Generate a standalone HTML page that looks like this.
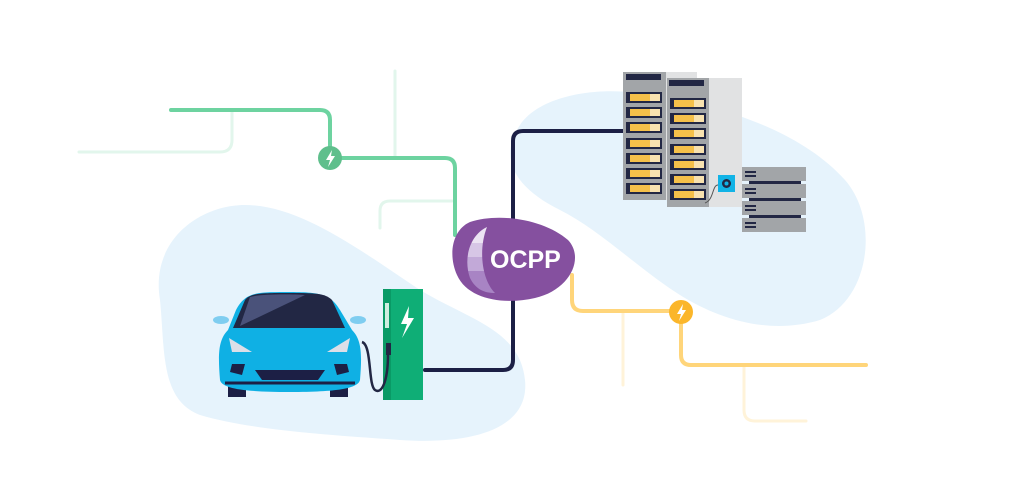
<!DOCTYPE html>
<html><head><style>html,body{margin:0;padding:0;background:#fff;}svg{display:block}</style></head>
<body>
<svg width="1025" height="498" viewBox="0 0 1025 498" xmlns="http://www.w3.org/2000/svg">
<path d="M160 300 C150 240 200 205 245 205 C300 205 360 250 420 290 C470 320 520 330 525 380 C530 430 470 445 400 440 C330 435 250 430 200 415 C160 400 165 350 160 300Z" fill="#e6f3fc"/>
<path d="M520 125 C540 95 600 85 650 95 C720 105 800 130 845 180 C880 220 870 300 820 320 C770 335 720 320 680 295 C640 270 600 230 560 210 C510 185 500 155 520 125Z" fill="#e6f3fc"/>
<g fill="none" stroke-linecap="round" stroke-width="3">
<path d="M79 152 H220 Q232 152 232 140 V110" stroke="#e2f6ec"/>
<path d="M395 71 V157" stroke="#e2f6ec"/>
<path d="M380 228 V211 Q380 201 390 201 H452" stroke="#e2f6ec"/>
<path d="M623 312 V385" stroke="#fff3d9"/>
<path d="M744 366 V410 Q744 421 755 421 H806" stroke="#fff3d9"/>
</g>
<g fill="none" stroke-linecap="round" stroke-width="4">
<path d="M171 110 H320 Q330 110 330 120 V158 H445 Q455 158 455 168 V235" stroke="#6dd3a0"/>
<path d="M425 370 H503 Q513 370 513 360 V290" stroke="#1c1f45"/>
<path d="M513 230 V141 Q513 131 523 131 H625" stroke="#1c1f45"/>
<path d="M572 275 V300 Q572 311 583 311 H681 V355 Q681 365 691 365 H866" stroke="#ffd57a"/>
</g>
<circle cx="330" cy="158" r="12" fill="#5fbf8c"/>
<path d="M332 150 L326 160 H330 L328 167 L335 156 H331Z" fill="#fff"/>
<circle cx="681" cy="312" r="12" fill="#fbb62a"/>
<path d="M683 304 L677 314 H681 L679 321 L686 310 H682Z" fill="#fff"/>
<path d="M470 222 C500 212 545 220 568 240 C585 258 570 290 535 298 C505 305 468 300 457 275 C448 255 452 230 470 222Z" fill="#85509f"/>
<clipPath id="cr"><path d="M487 227 C470 235 463 258 470 278 C476 290 485 293 495 293 C482 280 478 250 487 227Z"/></clipPath>
<g clip-path="url(#cr)">
<rect x="460" y="225" width="40" height="18" fill="#ece3f3"/>
<rect x="460" y="243" width="40" height="14" fill="#d7c6e6"/>
<rect x="460" y="257" width="40" height="14" fill="#c2a9d8"/>
<rect x="460" y="271" width="40" height="25" fill="#a884c4"/>
</g>
<text x="490" y="268" font-family="Liberation Sans, sans-serif" font-weight="bold" font-size="25" fill="#fff">OCPP</text>
<rect x="383" y="289" width="40" height="111" fill="#0fae76"/>
<rect x="383" y="289" width="8" height="111" fill="#0a9a66"/>
<rect x="385" y="303" width="4" height="25" fill="#cfeee0"/>
<path d="M409 306 L401 324 H407 L402 338 L414 318 H408Z" fill="#fff"/>
<rect x="386" y="343" width="5" height="12" fill="#222744"/>
<path d="M388 354 C388 380 382 395 375 390 C368 385 372 345 362 342" stroke="#222744" stroke-width="2.5" fill="none"/>
<path d="M228 385 h18 v12 h-18z M330 385 h18 v12 h-18z" fill="#1c1f45"/>
<path d="M236 310 C245 293 255 292 285 292 C318 292 330 293 340 310 L352 330 C362 340 362 355 360 380 C358 388 340 392 290 392 C240 392 222 388 220 380 C218 355 218 340 228 330Z" fill="#0fb0e4"/>
<path d="M245 300 C250 293 262 293 288 293 C315 293 325 293 332 300 L345 328 H233Z" fill="#222744"/>
<path d="M250 297 C260 294 290 294 305 295 L240 326Z" fill="#4a527a"/>
<ellipse cx="221" cy="320" rx="8" ry="4" fill="#7fcdf0"/>
<ellipse cx="358" cy="320" rx="8" ry="4" fill="#7fcdf0"/>
<path d="M229 338 L252 352 L232 352Z" fill="#dcdfe8"/>
<path d="M350 338 L327 352 L347 352Z" fill="#dcdfe8"/>
<path d="M232 364 L245 364 L242 375 L230 372Z M347 364 L334 364 L337 375 L349 372Z" fill="#1c1f45"/>
<path d="M255 370 H325 L318 380 H262Z" fill="#1c1f45"/>
<path d="M225 383 H355" stroke="#1c1f45" stroke-width="3"/>
<rect x="623" y="72" width="74" height="128" fill="#e1e2e3"/>
<rect x="623" y="72" width="43" height="128" fill="#a2a5a8"/>
<rect x="626" y="74" width="35" height="6" fill="#222744"/>
<rect x="667" y="78" width="75" height="129" fill="#e1e2e3"/>
<rect x="667" y="78" width="42" height="129" fill="#a2a5a8"/>
<rect x="669" y="80" width="35" height="6" fill="#222744"/>
<g fill="#222744">
<rect x="626" y="92" width="36" height="11"/><rect x="626" y="107" width="36" height="11"/><rect x="626" y="122" width="36" height="11"/><rect x="626" y="138" width="36" height="11"/><rect x="626" y="153" width="36" height="11"/><rect x="626" y="168" width="36" height="11"/><rect x="626" y="183" width="36" height="11"/>
<rect x="670" y="98" width="36" height="11"/><rect x="670" y="113" width="36" height="11"/><rect x="670" y="128" width="36" height="11"/><rect x="670" y="144" width="36" height="11"/><rect x="670" y="159" width="36" height="11"/><rect x="670" y="174" width="36" height="11"/><rect x="670" y="189" width="36" height="11"/>
</g>
<g fill="#f5c04a">
<rect x="630" y="94" width="30" height="7"/><rect x="630" y="109" width="30" height="7"/><rect x="630" y="124" width="30" height="7"/><rect x="630" y="140" width="30" height="7"/><rect x="630" y="155" width="30" height="7"/><rect x="630" y="170" width="30" height="7"/><rect x="630" y="185" width="30" height="7"/>
<rect x="674" y="100" width="30" height="7"/><rect x="674" y="115" width="30" height="7"/><rect x="674" y="130" width="30" height="7"/><rect x="674" y="146" width="30" height="7"/><rect x="674" y="161" width="30" height="7"/><rect x="674" y="176" width="30" height="7"/><rect x="674" y="191" width="30" height="7"/>
</g>
<g fill="#f8e2b0">
<rect x="650" y="94" width="10" height="7"/><rect x="650" y="109" width="10" height="7"/><rect x="650" y="124" width="10" height="7"/><rect x="650" y="140" width="10" height="7"/><rect x="650" y="155" width="10" height="7"/><rect x="650" y="170" width="10" height="7"/><rect x="650" y="185" width="10" height="7"/>
<rect x="694" y="100" width="10" height="7"/><rect x="694" y="115" width="10" height="7"/><rect x="694" y="130" width="10" height="7"/><rect x="694" y="146" width="10" height="7"/><rect x="694" y="161" width="10" height="7"/><rect x="694" y="176" width="10" height="7"/><rect x="694" y="191" width="10" height="7"/>
</g>
<rect x="718" y="175" width="17" height="17" fill="#11b3e6"/>
<circle cx="726.5" cy="183.5" r="4.5" fill="#222744"/><circle cx="726.5" cy="183.5" r="2" fill="#11b3e6"/>
<path d="M718 185 C712 185 714 200 705 203" stroke="#555" fill="none"/>
<g fill="#a2a5a8">
<rect x="742" y="167" width="64" height="14"/><rect x="742" y="184" width="64" height="14"/><rect x="742" y="201" width="64" height="14"/><rect x="742" y="218" width="64" height="14"/>
</g>
<g fill="#222744">
<rect x="749" y="181" width="52" height="3"/><rect x="749" y="198" width="52" height="3"/><rect x="749" y="215" width="52" height="3"/>
<rect x="745" y="171" width="11" height="2"/><rect x="745" y="188" width="11" height="2"/><rect x="745" y="205" width="11" height="2"/><rect x="745" y="222" width="11" height="2"/>
<rect x="745" y="175" width="11" height="2"/><rect x="745" y="192" width="11" height="2"/><rect x="745" y="209" width="11" height="2"/><rect x="745" y="226" width="11" height="2"/>
</g>
</svg>
</body></html>
